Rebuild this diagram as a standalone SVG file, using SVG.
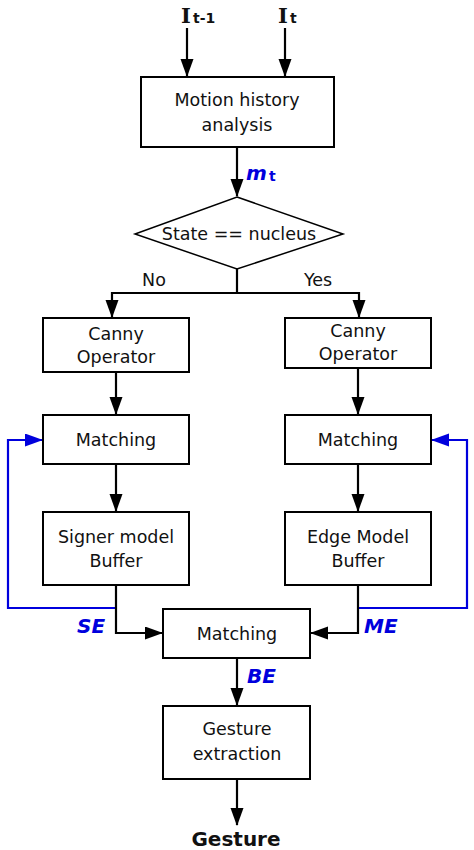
<svg xmlns="http://www.w3.org/2000/svg" width="474" height="850" viewBox="0 0 474 850">
<style>
.box{fill:#fff;stroke:#000;stroke-width:2}
.t{font-family:"DejaVu Sans",Verdana,sans-serif;font-size:17.5px;fill:#111;text-anchor:middle}
.ln{fill:none;stroke:#000;stroke-width:2.2}
.bl{fill:none;stroke:#0000dd;stroke-width:2.2}
.lab{font-family:"DejaVu Sans",Verdana,sans-serif;font-size:20px;font-weight:bold;font-style:italic;fill:#0000dd}
</style>
<defs>
<marker id="ah" markerUnits="userSpaceOnUse" markerWidth="18" markerHeight="14" refX="17" refY="6.5" orient="auto"><path d="M0,0 L18,6.5 L0,13 Z" fill="#000"/></marker>
<marker id="ahb" markerUnits="userSpaceOnUse" markerWidth="18" markerHeight="14" refX="17" refY="6.5" orient="auto"><path d="M0,0 L18,6.5 L0,13 Z" fill="#0000dd"/></marker>
</defs>
<g id="connectors">
<path class="ln" d="M187,28 V76" marker-end="url(#ah)"/>
<path class="ln" d="M285,28 V76" marker-end="url(#ah)"/>
<path class="ln" d="M237,147 V196" marker-end="url(#ah)"/>
<path class="ln" d="M237,269 V293 M112,293 H359"/>
<path class="ln" d="M112,292 V317" marker-end="url(#ah)"/>
<path class="ln" d="M359,292 V317" marker-end="url(#ah)"/>
<path class="ln" d="M116,372 V414" marker-end="url(#ah)"/>
<path class="ln" d="M358,368 V414" marker-end="url(#ah)"/>
<path class="ln" d="M116,464 V511" marker-end="url(#ah)"/>
<path class="ln" d="M358,464 V511" marker-end="url(#ah)"/>
<path class="bl" d="M116,608 H8 V440 H42" marker-end="url(#ahb)"/>
<path class="bl" d="M358,608 H467 V440 H432" marker-end="url(#ahb)"/>
<path class="ln" d="M116,585 V633 H162" marker-end="url(#ah)"/>
<path class="ln" d="M358,585 V633 H311" marker-end="url(#ah)"/>
<path class="ln" d="M237,658 V705" marker-end="url(#ah)"/>
<path class="ln" d="M237,779 V825" marker-end="url(#ah)"/>
</g>
<g id="inputs">
<text x="181" y="23" font-family="'DejaVu Serif',serif" font-weight="bold" font-size="21" fill="#111">I</text>
<text x="193" y="23" font-family="'DejaVu Sans',sans-serif" font-weight="bold" font-size="14" fill="#111">t-1</text>
<text x="278" y="23" font-family="'DejaVu Serif',serif" font-weight="bold" font-size="21" fill="#111">I</text>
<text x="290" y="23" font-family="'DejaVu Sans',sans-serif" font-weight="bold" font-size="14" fill="#111">t</text>
</g>
<g id="mt">
<text x="246" y="180" font-family="'DejaVu Sans',sans-serif" font-weight="bold" font-style="italic" font-size="20" fill="#0000dd">m</text>
<text x="269" y="181" font-family="'DejaVu Sans',sans-serif" font-weight="bold" font-size="14" fill="#0000dd">t</text>
</g>
<g id="motion">
<rect class="box" x="141" y="77" width="193" height="70"/>
<text class="t" x="237" y="106">Motion history</text>
<text class="t" x="237" y="131">analysis</text>
</g>
<g id="decision">
<polygon points="237,197 343,234 237,269 135,234" fill="#fff" stroke="#000" stroke-width="1.5"/>
<text class="t" x="239" y="240">State == nucleus</text>
<text class="t" x="154" y="286">No</text>
<text class="t" x="318" y="286">Yes</text>
</g>
<g id="canny-left">
<rect class="box" x="43" y="318" width="146" height="54"/>
<text class="t" x="116" y="340">Canny</text>
<text class="t" x="116" y="363">Operator</text>
</g>
<g id="canny-right">
<rect class="box" x="285" y="318" width="146" height="50"/>
<text class="t" x="358" y="337">Canny</text>
<text class="t" x="358" y="360">Operator</text>
</g>
<g id="match-left">
<rect class="box" x="43" y="415" width="146" height="49"/>
<text class="t" x="116" y="446">Matching</text>
</g>
<g id="match-right">
<rect class="box" x="285" y="415" width="146" height="49"/>
<text class="t" x="358" y="446">Matching</text>
</g>
<g id="signer">
<rect class="box" x="43" y="512" width="146" height="73"/>
<text class="t" x="116" y="543">Signer model</text>
<text class="t" x="116" y="567">Buffer</text>
</g>
<g id="edge">
<rect class="box" x="285" y="512" width="146" height="73"/>
<text class="t" x="358" y="543">Edge Model</text>
<text class="t" x="358" y="567">Buffer</text>
</g>
<g id="match-bottom">
<rect class="box" x="163" y="609" width="147" height="49"/>
<text class="t" x="237" y="640">Matching</text>
</g>
<g id="labels">
<text class="lab" x="77" y="633">SE</text>
<text class="lab" x="364" y="633">ME</text>
<text class="lab" x="247" y="683">BE</text>
</g>
<g id="gesture-ext">
<rect class="box" x="163" y="706" width="147" height="73"/>
<text class="t" x="237" y="735">Gesture</text>
<text class="t" x="237" y="760">extraction</text>
</g>
<g id="output">
<text x="236" y="846" font-family="'DejaVu Sans',sans-serif" font-weight="bold" font-size="20" fill="#111" text-anchor="middle">Gesture</text>
</g>
</svg>
